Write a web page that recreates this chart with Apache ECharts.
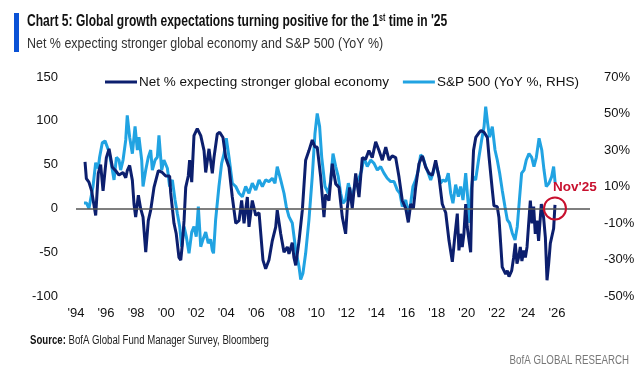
<!DOCTYPE html>
<html><head><meta charset="utf-8">
<script src="https://cdn.jsdelivr.net/npm/echarts@6/dist/echarts.min.js"></script>
<style>html,body{margin:0;padding:0;background:#fff}#c{width:640px;height:370px}</style>
</head><body><div id="c"></div>
<script>
// ---- data (decimal years, values) ----
const netName = 'Net % expecting stronger global economy';
const spxName = 'S&P 500 (YoY %, RHS)';
const netDates = [1994.60,1994.69,1994.86,1995.04,1995.31,1995.48,1995.64,1995.80,1996.02,1996.20,1996.42,1996.64,1996.86,1997.13,1997.31,1997.41,1997.57,1997.75,1997.86,1997.97,1998.15,1998.30,1998.46,1998.64,1998.81,1998.97,1999.19,1999.48,1999.74,1999.97,2000.23,2000.30,2000.52,2000.67,2000.85,2000.97,2001.07,2001.19,2001.30,2001.47,2001.56,2001.70,2001.85,2002.07,2002.30,2002.52,2002.63,2002.85,2003.07,2003.18,2003.40,2003.56,2003.78,2003.96,2004.18,2004.40,2004.63,2004.85,2005.02,2005.18,2005.40,2005.51,2005.73,2005.96,2006.18,2006.44,2006.62,2006.84,2007.06,2007.29,2007.39,2007.62,2007.84,2008.06,2008.17,2008.39,2008.50,2008.62,2008.84,2009.06,2009.28,2009.50,2009.72,2009.90,2010.05,2010.28,2010.50,2010.61,2010.83,2011.05,2011.28,2011.50,2011.72,2011.94,2012.05,2012.21,2012.38,2012.61,2012.83,2013.05,2013.27,2013.49,2013.71,2013.94,2014.16,2014.38,2014.61,2014.83,2015.04,2015.27,2015.49,2015.71,2015.94,2016.11,2016.27,2016.45,2016.60,2016.82,2017.04,2017.27,2017.49,2017.71,2017.93,2018.15,2018.37,2018.60,2018.82,2019.04,2019.20,2019.37,2019.48,2019.59,2019.70,2019.81,2019.93,2020.03,2020.26,2020.36,2020.45,2020.60,2020.80,2020.95,2021.15,2021.37,2021.48,2021.70,2021.81,2022.03,2022.14,2022.36,2022.59,2022.70,2022.81,2022.99,2023.12,2023.23,2023.34,2023.45,2023.56,2023.67,2023.79,2023.90,2024.01,2024.12,2024.23,2024.34,2024.45,2024.56,2024.67,2024.78,2024.96,2025.11,2025.23,2025.34,2025.45,2025.56,2025.67,2025.78,2025.87];
const netValues = [53,34,30,20,-8,40,50,20,58,68,47,43,38,41,35,43,49,32,5,-10,15,0,-10,-50,-14,-2,24,43,41,37,37,18,-17,-29,-56,-59,-42,-14,24,37,55,30,83,91,83,66,41,68,40,58,85,87,81,58,47,13,-17,-14,9,-17,13,-21,9,-8,-5,-59,-69,-59,-37,-21,-2,-29,-50,-44,-52,-39,-56,-65,-37,-2,55,66,78,70,70,36,-10,16,9,51,28,24,-10,-29,0,24,0,40,13,58,56,66,58,76,66,55,70,55,60,58,36,9,0,-16,5,0,24,51,60,47,40,38,55,36,5,-5,-37,-61,-33,-6,-48,-29,-44,-29,5,-21,-50,30,66,81,86,89,87,81,59,21,3,2,-10,-67,-75,-71,-78,-71,-56,-40,-63,-56,-44,-60,-48,-56,-44,-17,9,-17,2,-29,-14,-37,5,-10,-33,-82,-63,-40,-42,-23,4];
const spxDates = [1994.53,1994.69,1994.86,1994.98,1995.13,1995.31,1995.48,1995.57,1995.75,1995.93,1996.02,1996.20,1996.42,1996.53,1996.69,1996.86,1996.97,1997.13,1997.31,1997.41,1997.57,1997.75,1997.93,1998.08,1998.19,1998.37,1998.46,1998.64,1998.81,1998.97,1999.08,1999.26,1999.41,1999.52,1999.70,1999.85,2000.08,2000.23,2000.41,2000.59,2000.74,2000.90,2001.03,2001.19,2001.34,2001.52,2001.70,2001.85,2002.00,2002.14,2002.30,2002.45,2002.63,2002.80,2002.96,2003.07,2003.15,2003.29,2003.51,2003.69,2003.85,2004.00,2004.18,2004.40,2004.63,2004.85,2005.07,2005.29,2005.51,2005.73,2005.96,2006.18,2006.40,2006.62,2006.84,2007.06,2007.24,2007.39,2007.62,2007.84,2007.99,2008.17,2008.39,2008.62,2008.84,2008.95,2009.10,2009.28,2009.50,2009.72,2009.90,2010.05,2010.21,2010.35,2010.57,2010.79,2010.95,2011.10,2011.28,2011.45,2011.61,2011.76,2011.94,2012.12,2012.28,2012.43,2012.61,2012.83,2013.01,2013.16,2013.38,2013.61,2013.83,2014.05,2014.27,2014.49,2014.71,2014.94,2015.16,2015.38,2015.55,2015.71,2015.94,2016.11,2016.27,2016.42,2016.60,2016.78,2016.93,2017.09,2017.27,2017.44,2017.60,2017.75,2017.93,2018.11,2018.26,2018.42,2018.60,2018.77,2018.93,2019.08,2019.26,2019.44,2019.59,2019.75,2019.93,2020.20,2020.30,2020.41,2020.59,2020.81,2020.99,2021.15,2021.26,2021.39,2021.52,2021.70,2021.88,2022.03,2022.19,2022.36,2022.54,2022.70,2022.85,2023.03,2023.21,2023.36,2023.52,2023.65,2023.81,2023.96,2024.14,2024.32,2024.47,2024.63,2024.81,2024.99,2025.14,2025.29,2025.47,2025.65,2025.78,2025.88];
const spxValues = [1,1,-2,-2.5,10,23,20,26,34,35,34,29,19,13.6,26,24.5,19,24.5,35.5,49,37,28,43,30,37,24.5,10,19,26,30,19,24.5,26,38,19,24.5,20,10,13.6,2.6,-4.7,-12,-23,-12,-17.5,-26.6,-15,-12,-17.5,-1,-23,-19,-15,-21,-19,-25,-26.6,-8.3,10,22.7,28,36.4,26,11.8,10,6.3,4.4,10,6.3,11.8,8,13.6,10,13.6,12.7,14.5,11.8,20.9,13.6,6.3,-1,-6.5,-10,-24.8,-34,-41,-37.5,-26.6,-8.3,15.4,39,50,42.8,26,10,6.3,13.6,28,20.9,15.4,6.3,0.8,2.6,11.8,6.3,6.3,11.8,14.5,19,26,20.9,24.5,22.7,19,20.9,17.3,14.5,12.7,12.7,8,6.3,-1,2.6,-4.7,0.8,10,13.6,19,27.3,26,20.9,17.3,13.6,17.3,22.7,17.3,11.8,13.6,12.7,17.3,6.3,0.8,11,4.4,10,2.6,17.3,-10,8,15.4,13.6,26,35.5,42.8,53.8,44.6,37,42.8,30,24.5,17.3,8,-1,-8.3,-10,-15.6,-19.3,-12,4.4,17.3,19,24.5,28,26,20.9,26,36.4,30,19,10,11.8,15.4,20.9,12];
const leftTicks = {min: -100, max: 150, step: 50};
const rightTicks = {min: -50, max: 70, step: 10};
const xRange = {min: 1994, max: 2028.2, step: 2, lastLabel: 2026};
const annotation = {text: "Nov'25", date: 2025.87, value: 0};

const NAVY = '#0c1f6e', LIGHT = '#21a3e2', RED = '#c8102e';
const chart = echarts.init(document.getElementById('c'), null, {renderer: 'canvas'});
const netData = netDates.map((d, i) => [d, netValues[i]]);
const spxData = spxDates.map((d, i) => [d, spxValues[i]]);
const FONT = 'Liberation Sans';

chart.setOption({
  animation: false,
  backgroundColor: '#fff',
  grid: {left: 76, right: 50, top: 77, bottom: 74, containLabel: false},
  legend: {
    left: 100, top: 70, itemWidth: 32, itemHeight: 3, itemGap: 14, icon: 'rect',
    textStyle: {fontFamily: FONT, fontSize: 13.5, color: '#111', padding: [0, 0, 0, -3]},
    data: [netName, spxName]
  },
  xAxis: {
    type: 'value', min: xRange.min, max: xRange.max, interval: xRange.step,
    axisLine: {show: false}, axisTick: {show: false}, splitLine: {show: false},
    axisLabel: {
      margin: 11, fontFamily: FONT, fontSize: 13, color: '#111', showMaxLabel: false,
      formatter: v => (Math.abs(v - Math.round(v)) < 1e-6 && v <= xRange.lastLabel) ? "'" + String(Math.round(v)).slice(2) : ''
    }
  },
  yAxis: [
    {type: 'value', min: leftTicks.min, max: leftTicks.max, interval: leftTicks.step,
     axisLine: {show: false}, axisTick: {show: false}, splitLine: {show: false},
     axisLabel: {margin: 18, fontFamily: FONT, fontSize: 13, color: '#111'}},
    {type: 'value', min: rightTicks.min, max: rightTicks.max, interval: rightTicks.step,
     axisLine: {show: false}, axisTick: {show: false}, splitLine: {show: false},
     axisLabel: {margin: 14, fontFamily: FONT, fontSize: 13, color: '#111',
       formatter: v => (Math.round(v / 10) % 2 !== 0) ? v + '%' : ''}}
  ],
  series: [
    {name: netName, type: 'line', yAxisIndex: 0, data: netData, symbol: 'none',
     lineStyle: {color: NAVY, width: 3}, itemStyle: {color: NAVY}, z: 3,
     markLine: {silent: true, symbol: 'none', label: {show: false},
       lineStyle: {color: '#555', width: 1.5, type: 'solid'}, data: [{yAxis: 0}]},
     markPoint: {
       symbol: 'circle', symbolSize: 22, silent: true,
       itemStyle: {color: 'rgba(0,0,0,0)', borderColor: RED, borderWidth: 2},
       label: {show: true, position: 'top', distance: 2, offset: [20, 0], formatter: annotation.text,
         color: RED, fontFamily: FONT, fontSize: 13.5, fontWeight: 'bold'},
       data: [{coord: [annotation.date, annotation.value]}]
     }},
    {name: spxName, type: 'line', yAxisIndex: 1, data: spxData, symbol: 'none',
     lineStyle: {color: LIGHT, width: 3}, itemStyle: {color: LIGHT}, z: 2}
  ],
  graphic: [
    {type: 'rect', shape: {x: 14, y: 13, width: 5, height: 39}, style: {fill: '#0a52d6'}},
    {type: 'text', x: 27, y: 13, scaleX: 0.71, style: {
      text: "Chart 5: Global growth expectations turning positive for the 1{sup|st} time in '25",
      fontFamily: FONT, fontSize: 17, fontWeight: 'bold', fill: '#111', verticalAlign: 'top',
      rich: {sup: {fontFamily: FONT, fontSize: 10, fontWeight: 'bold', fill: '#111', verticalAlign: 'top', padding: [0, 0, 7, 0]}}
    }},
    {type: 'text', x: 27, y: 37, scaleX: 0.89, style: {
      text: 'Net % expecting stronger global economy and S&P 500 (YoY %)',
      fontFamily: FONT, fontSize: 14, fill: '#333', verticalAlign: 'top'
    }},
    {type: 'text', x: 30, y: 334, scaleX: 0.77, style: {
      text: '{b|Source:} BofA Global Fund Manager Survey, Bloomberg',
      fontFamily: FONT, fontSize: 12.5, fill: '#222', verticalAlign: 'top',
      rich: {b: {fontFamily: FONT, fontSize: 12.5, fontWeight: 'bold', fill: '#111'}}
    }},
    {type: 'text', x: 629, y: 355, scaleX: 0.81, style: {
      text: 'BofA GLOBAL RESEARCH', fontFamily: FONT, fontSize: 12, fill: '#777',
      align: 'right', verticalAlign: 'top'
    }}
  ]
});
</script></body></html>
